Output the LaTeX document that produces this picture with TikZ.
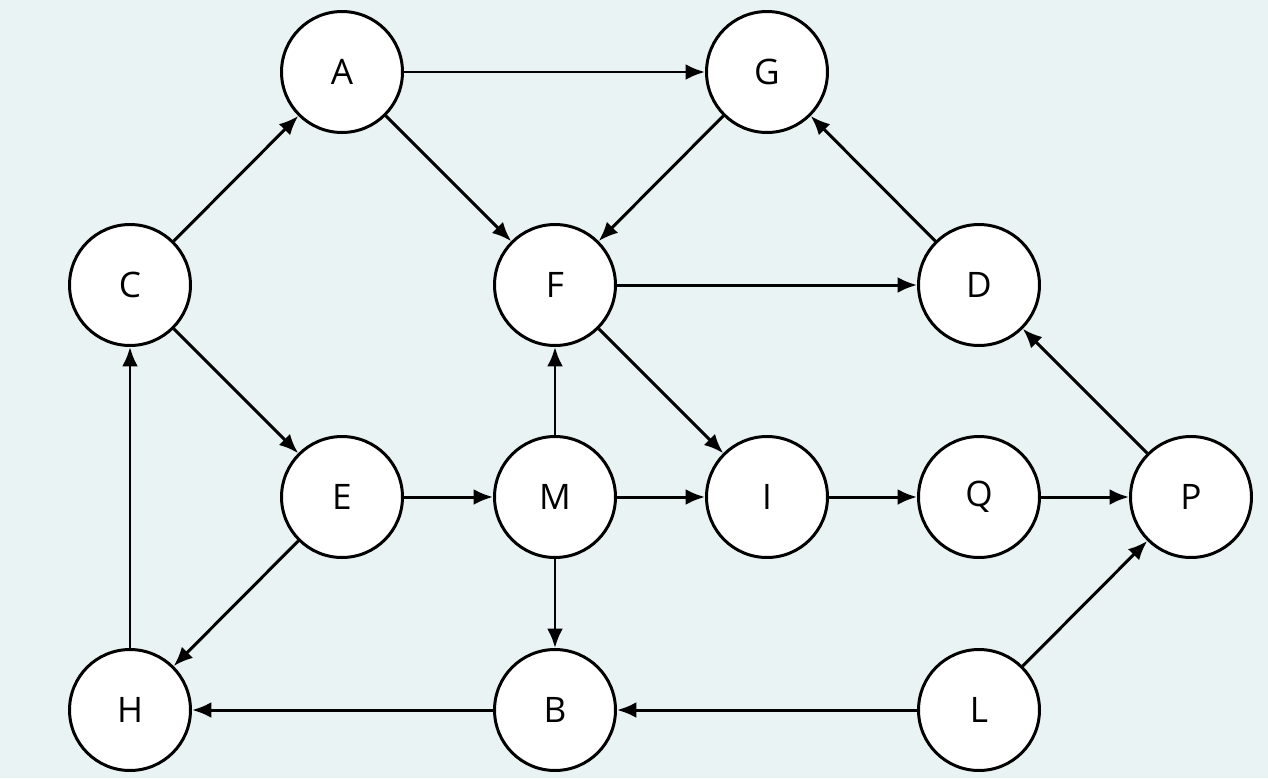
\documentclass[tikz,border=0pt]{standalone}
\usepackage{fontspec}
\setmainfont{Open Sans}
\usetikzlibrary{arrows.meta}
\definecolor{bg}{HTML}{EAF3F3}
\begin{document}
\begin{tikzpicture}[x=0.02cm,y=-0.02cm,
  v/.style={circle,draw,line width=1.7pt,fill=white,minimum size=2.42cm,inner sep=0pt,font=\fontsize{20}{20}\selectfont},
  e/.style={line width=1.7pt,-{Latex[length=11pt,width=9pt]}}]
\fill[bg] (0,0) rectangle (1268,778);
\useasboundingbox (0,0) rectangle (1268,778);
\node[v] (A) at (342,72) {A};
\node[v] (G) at (767,72) {G};
\node[v] (C) at (130,285) {C};
\node[v] (F) at (555,285) {F};
\node[v] (D) at (979,285) {D};
\node[v] (E) at (342,497) {E};
\node[v] (M) at (555,497) {M};
\node[v] (I) at (767,497) {I};
\node[v] (Q) at (979,497) {Q};
\node[v] (P) at (1191,497) {P};
\node[v] (H) at (130,710) {H};
\node[v] (B) at (555,710) {B};
\node[v] (L) at (979,710) {L};
\foreach \a/\b in {A/G,A/F,G/F,D/G,C/A,C/E,F/D,F/I,M/F,E/M,M/I,I/Q,Q/P,P/D,E/H,H/C,M/B,B/H,L/B,L/P}
  \draw[e] (\a) -- (\b);
\end{tikzpicture}
\end{document}
